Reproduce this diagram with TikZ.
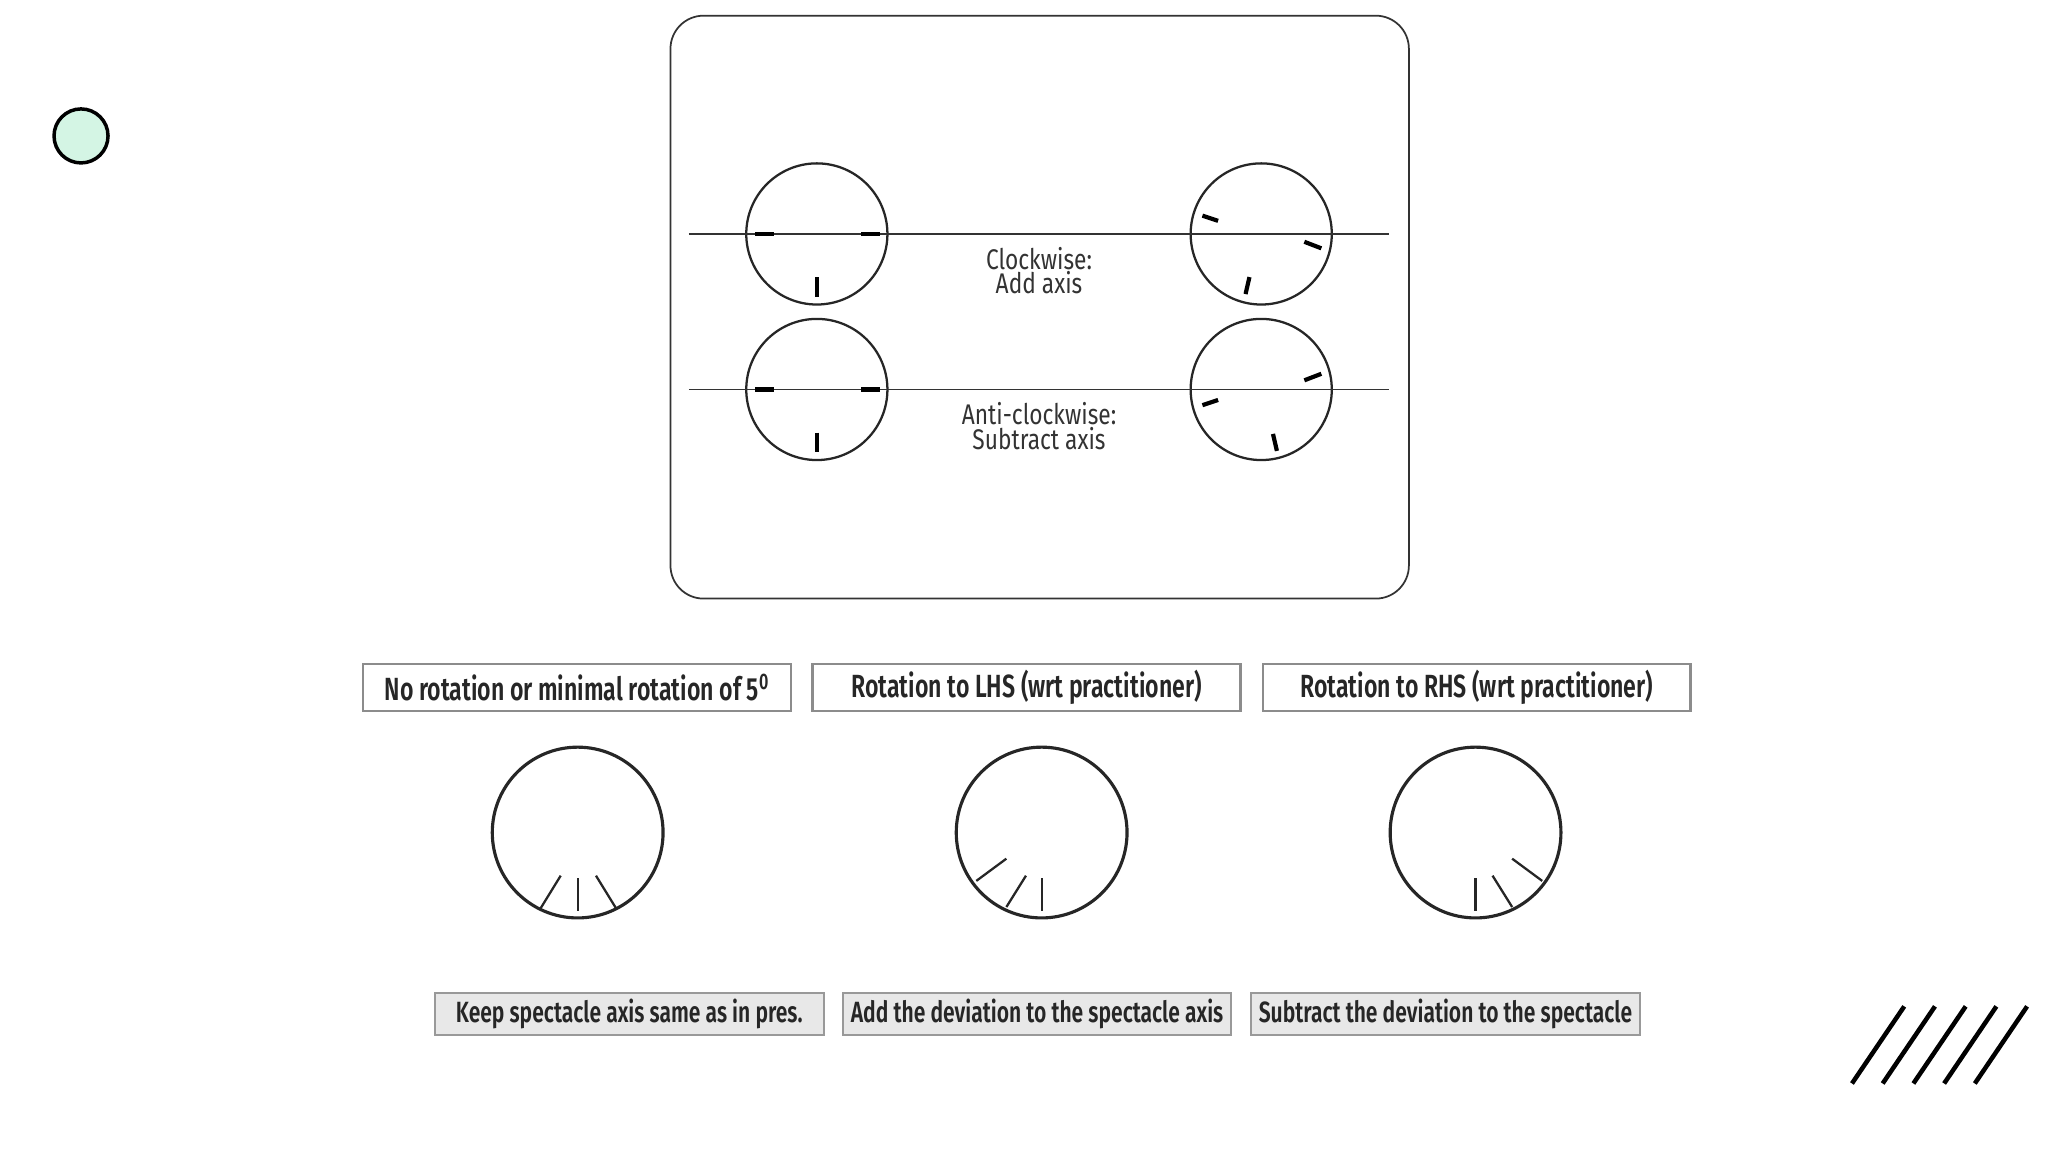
\documentclass[tikz,border=0pt]{standalone}
\usepackage{fontspec}
\setmainfont{Fira Sans}
\newfontfamily\condf[FakeStretch=0.8]{Fira Sans}
\newfontfamily\condb[FakeStretch=0.72]{Fira Sans SemiBold}
\begin{document}
\begin{tikzpicture}[x=0.75pt,y=-0.75pt,
  eye/.style={draw=black!85,line width=1.3pt},
  tick/.style={line width=2.4pt},
  ray/.style={line width=1.3pt,black!85},
  lbl/.style={font=\condf\fontsize{16.3}{17}\selectfont,text=black!80,align=center},
  hbox/.style={draw=black!45,line width=1.5pt,fill=white,minimum width=245.5pt,minimum height=27pt,font=\condb\fontsize{18.4}{19}\selectfont,text=black!85},
  gbox/.style={draw=black!40,line width=1.2pt,fill=black!9,minimum width=223pt,minimum height=24pt,font=\condb\fontsize{16.8}{18}\selectfont,text=black!85,inner sep=1pt}]
\useasboundingbox (0,0) rectangle (1567,881.4);
\fill[white] (0,0) rectangle (1567,881.4);
\node[circle,draw=black,line width=2pt,fill={rgb,255:red,212;green,245;blue,228},minimum size=31pt,inner sep=0] (dot) at (62,104) {};
\draw[black!80,line width=1pt,rounded corners=19pt] (513,12) rectangle (1078,458);
% top row
\node[circle,eye,minimum size=81pt,inner sep=0] (c1) at (625,179) {};
\node[circle,eye,minimum size=81pt,inner sep=0] (c2) at (965,179) {};
\node[circle,eye,minimum size=81pt,inner sep=0] (c3) at (625,298) {};
\node[circle,eye,minimum size=81pt,inner sep=0] (c4) at (965,298) {};
\coordinate (l1a) at (527,179); \coordinate (l1b) at (1063,179);
\coordinate (l2a) at (527,298); \coordinate (l2b) at (1063,298);
\draw[black!80,line width=0.9pt] (l1a) -- (l1b);
\draw[black!80,line width=0.9pt] (l2a) -- (l2b);
\foreach \c in {c1,c3}{
  \begin{scope}[shift={(\c.center)}]
  \draw[tick] (-47,0) -- (-33,0);
  \draw[tick] (34,0) -- (48,0);
  \draw[tick] (0,33) -- (0,48);
  \end{scope}
}
\begin{scope}[shift={(c2.center)}]
  \draw[tick] (-45,-14) -- (-33,-10);
  \draw[tick] (33,6) -- (46,11);
  \draw[tick] (-9,33) -- (-12,46);
\end{scope}
\begin{scope}[shift={(c4.center)}]
  \draw[tick] (33,-7) -- (46,-12);
  \draw[tick] (-33,8) -- (-45,12);
  \draw[tick] (9,34) -- (12,47);
\end{scope}
\node[lbl] (t1) at (795,207) {Clockwise:\\[-3pt]Add axis};
\node[lbl] (t2) at (795,326) {Anti-clockwise:\\[-3pt]Subtract axis};
% bottom
\node[hbox] (h1) at (441.5,526) {No rotation or minimal rotation of 5\textsuperscript{0}};
\node[hbox] (h2) at (785.5,526) {Rotation to LHS (wrt practitioner)};
\node[hbox] (h3) at (1130,526) {Rotation to RHS (wrt practitioner)};
\node[circle,eye,line width=1.8pt,minimum size=98pt,inner sep=0] (e1) at (442,637) {};
\node[circle,eye,line width=1.8pt,minimum size=98pt,inner sep=0] (e2) at (797,637) {};
\node[circle,eye,line width=1.8pt,minimum size=98pt,inner sep=0] (e3) at (1129,637) {};
\begin{scope}[shift={(e1.center)}]
  \draw[ray] (-13,33) -- (-29,59); \draw[ray] (0,35) -- (0,60); \draw[ray] (14,33) -- (30,59);
\end{scope}
\begin{scope}[shift={(e2.center)}]
  \draw[ray] (-27,20) -- (-50,37); \draw[ray] (-12,33) -- (-27,57); \draw[ray] (0,35) -- (0,60);
\end{scope}
\begin{scope}[shift={(e3.center)}]
  \draw[ray] (28,20) -- (51,37); \draw[ray] (13,33) -- (28,57); \draw[ray] (0,35) -- (0,60);
\end{scope}
\node[gbox] (g1) at (481.5,776) {Keep spectacle axis same as in pres.};
\node[gbox] (g2) at (793.5,776) {Add the deviation to the spectacle axis};
\node[gbox] (g3) at (1106,776) {Subtract the deviation to the spectacle};
% slashes
\foreach \i in {0,...,4}{
  \draw[line width=2.6pt] (1417+23.5*\i,829) -- (1457+23.5*\i,770);
}
\end{tikzpicture}
\end{document}
